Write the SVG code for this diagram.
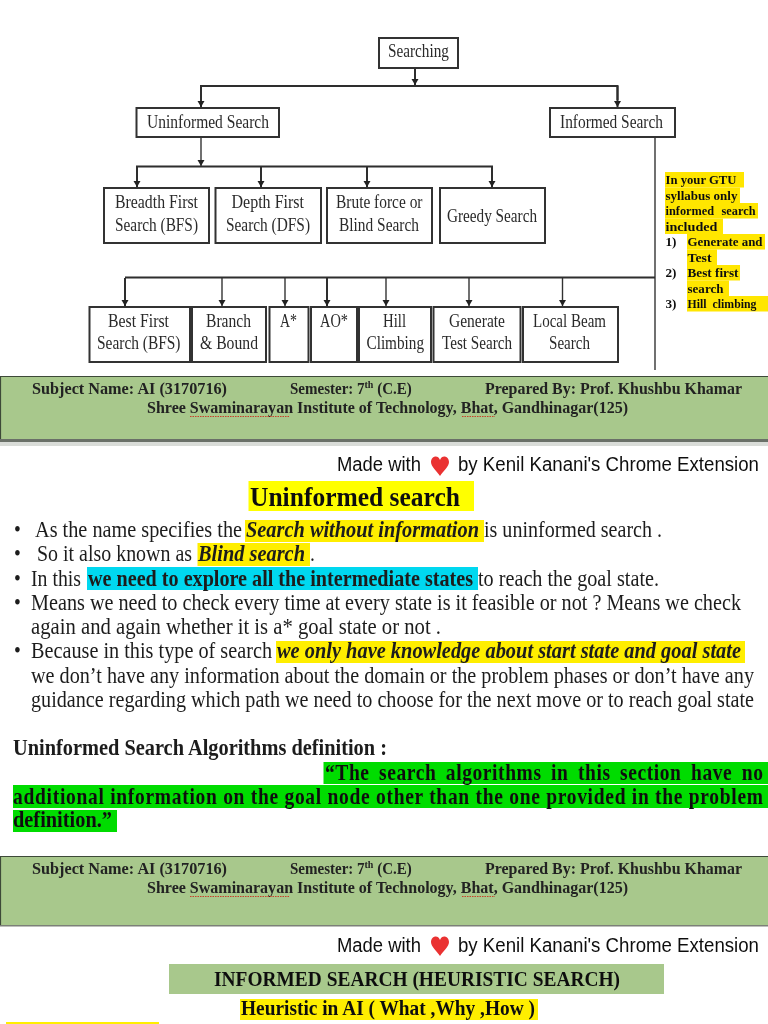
<svg xmlns="http://www.w3.org/2000/svg" width="768" height="1024" viewBox="0 0 768 1024">
<style>
text{font-family:"Liberation Serif","Times New Roman",serif;fill:#111}
.n{fill:#fff;stroke:#333;stroke-width:2}
.t{font-size:16px;fill:#2a2a2a}
.c{fill:none;stroke:#2e2e2e;stroke-width:2}
.v{fill:none;stroke:#333;stroke-width:1.400}
.y{fill:#ffff00}
.ny{fill:#ffe600}
.g{fill:#00dc00}
.b{fill:#a8c88c}
.note{font-size:11.500px;font-weight:bold}
.hd{font-size:15px;font-weight:bold;fill:#222}
.p{font-size:19.500px;fill:#1c1c1c}
.bi{font-weight:bold;font-style:italic}
.bo{font-weight:bold}
.m{font-family:"Liberation Sans",Arial,sans-serif;font-size:18px}
.w{fill:none;stroke:#c8402a;stroke-width:1;stroke-dasharray:1.5 1}
.q{font-size:19.500px;font-weight:bold}
</style>
<defs>
<marker id="a" markerWidth="8" markerHeight="8" refX="6" refY="3.500" orient="auto" markerUnits="userSpaceOnUse"><path d="M0 0L6 3.500L0 7Z" fill="#222"/></marker>
<filter id="s" x="-2%" y="-2%" width="104%" height="104%"><feGaussianBlur stdDeviation="0.4"/></filter>
<path id="h" d="M0 3C-2-3-9-1-9 5C-9 10-3 14 0 19C3 14 9 10 9 5C9-1 2-3 0 3Z" fill="#ea3030"/>
</defs>
<rect width="768" height="1024" fill="#fff"/>
<g filter="url(#s)">
<g id="connectors">
<path class="c" d="M415 68V85" marker-end="url(#a)"/>
<path class="c" d="M201 100V86H617.500V100"/>
<path class="c" d="M201 86V107" marker-end="url(#a)"/>
<path class="c" d="M617.500 86V107" marker-end="url(#a)"/>
<path class="v" d="M201 137V166" marker-end="url(#a)"/>
<path class="c" d="M137 180V166.500H492V180"/>
<path class="c" d="M137 167V187" marker-end="url(#a)"/>
<path class="c" d="M261 167V187" marker-end="url(#a)"/>
<path class="c" d="M367 167V187" marker-end="url(#a)"/>
<path class="c" d="M492 167V187" marker-end="url(#a)"/>
<path class="v" d="M655 137V370"/>
<path class="c" d="M655 277.500H125"/>
<path class="c" d="M125 278V306" marker-end="url(#a)"/>
<path class="v" d="M222 278V306" marker-end="url(#a)"/>
<path class="v" d="M285 278V306" marker-end="url(#a)"/>
<path class="c" d="M327 278V306" marker-end="url(#a)"/>
<path class="v" d="M386 278V306" marker-end="url(#a)"/>
<path class="v" d="M469 278V306" marker-end="url(#a)"/>
<path class="v" d="M562.500 278V306" marker-end="url(#a)"/>
</g>
<g id="n-searching"><rect class="n" x="379" y="38" width="79" height="30"/><text class="t" transform="translate(388 57) scale(1 1.150)" textLength="61" lengthAdjust="spacingAndGlyphs">Searching</text></g>
<g id="n-uninformed"><rect class="n" x="136.500" y="108" width="142.500" height="29"/><text class="t" transform="translate(147 127.500) scale(1 1.150)" textLength="122" lengthAdjust="spacingAndGlyphs">Uninformed Search</text></g>
<g id="n-informed"><rect class="n" x="550" y="108" width="125" height="29"/><text class="t" transform="translate(560 127.500) scale(1 1.150)" textLength="103" lengthAdjust="spacingAndGlyphs">Informed Search</text></g>
<g id="n-bfs"><rect class="n" x="104" y="188" width="105" height="55"/><text class="t" transform="translate(115 208) scale(1 1.150)" textLength="83" lengthAdjust="spacingAndGlyphs">Breadth First</text><text class="t" transform="translate(115 231) scale(1 1.150)" textLength="83" lengthAdjust="spacingAndGlyphs">Search (BFS)</text></g>
<g id="n-dfs"><rect class="n" x="215.500" y="188" width="105.500" height="55"/><text class="t" transform="translate(231.500 208) scale(1 1.150)" textLength="72.500" lengthAdjust="spacingAndGlyphs">Depth First</text><text class="t" transform="translate(226 231) scale(1 1.150)" textLength="84" lengthAdjust="spacingAndGlyphs">Search (DFS)</text></g>
<g id="n-brute"><rect class="n" x="327" y="188" width="105" height="55"/><text class="t" transform="translate(336 208) scale(1 1.150)" textLength="86.500" lengthAdjust="spacingAndGlyphs">Brute force or</text><text class="t" transform="translate(339 231) scale(1 1.150)" textLength="80" lengthAdjust="spacingAndGlyphs">Blind Search</text></g>
<g id="n-greedy"><rect class="n" x="440" y="188" width="105" height="55"/><text class="t" transform="translate(447 222) scale(1 1.150)" textLength="90" lengthAdjust="spacingAndGlyphs">Greedy Search</text></g>
<g id="n-best"><rect class="n" x="89.500" y="307" width="100.500" height="55"/><text class="t" transform="translate(108 327) scale(1 1.150)" textLength="61" lengthAdjust="spacingAndGlyphs">Best First</text><text class="t" transform="translate(97 349) scale(1 1.150)" textLength="83.500" lengthAdjust="spacingAndGlyphs">Search (BFS)</text></g>
<g id="n-branch"><rect class="n" x="192" y="307" width="74" height="55"/><text class="t" transform="translate(206 327) scale(1 1.150)" textLength="45" lengthAdjust="spacingAndGlyphs">Branch</text><text class="t" transform="translate(200 349) scale(1 1.150)" textLength="58" lengthAdjust="spacingAndGlyphs">&amp; Bound</text></g>
<g id="n-astar"><rect class="n" x="269.500" y="307" width="39" height="55"/><text class="t" transform="translate(280 327) scale(1 1.150)" textLength="17" lengthAdjust="spacingAndGlyphs">A*</text></g>
<g id="n-aostar"><rect class="n" x="311" y="307" width="46" height="55"/><text class="t" transform="translate(320 327) scale(1 1.150)" textLength="28" lengthAdjust="spacingAndGlyphs">AO*</text></g>
<g id="n-hill"><rect class="n" x="359" y="307" width="72" height="55"/><text class="t" transform="translate(383 327) scale(1 1.150)" textLength="23" lengthAdjust="spacingAndGlyphs">Hill</text><text class="t" transform="translate(366.500 349) scale(1 1.150)" textLength="57.500" lengthAdjust="spacingAndGlyphs">Climbing</text></g>
<g id="n-generate"><rect class="n" x="433.500" y="307" width="87" height="55"/><text class="t" transform="translate(449 327) scale(1 1.150)" textLength="56" lengthAdjust="spacingAndGlyphs">Generate</text><text class="t" transform="translate(442 349) scale(1 1.150)" textLength="70" lengthAdjust="spacingAndGlyphs">Test Search</text></g>
<g id="n-beam"><rect class="n" x="523" y="307" width="95" height="55"/><text class="t" transform="translate(533 327) scale(1 1.150)" textLength="73" lengthAdjust="spacingAndGlyphs">Local Beam</text><text class="t" transform="translate(549 349) scale(1 1.150)" textLength="41" lengthAdjust="spacingAndGlyphs">Search</text></g>
<g id="note">
<rect class="ny" x="665" y="172" width="79" height="15.500"/><rect class="ny" x="665" y="187.500" width="75" height="15.500"/><rect class="ny" x="665" y="203" width="93" height="15.500"/><rect class="ny" x="665" y="218.500" width="58" height="15.500"/>
<rect class="ny" x="687" y="234" width="78" height="15.500"/><rect class="ny" x="687" y="249.500" width="30" height="15.500"/><rect class="ny" x="687" y="265" width="53" height="15.500"/><rect class="ny" x="687" y="280.500" width="42" height="15.500"/><rect class="ny" x="687" y="296" width="81" height="15.500"/>
<text class="note" transform="translate(665.500 184) scale(1 1.170)" textLength="71" lengthAdjust="spacingAndGlyphs">In your GTU</text>
<text class="note" transform="translate(665.500 199.500) scale(1 1.170)" textLength="72" lengthAdjust="spacingAndGlyphs">syllabus only</text>
<text class="note" transform="translate(665.500 215) scale(1 1.170)" textLength="90" lengthAdjust="spacingAndGlyphs" word-spacing="4">informed search</text>
<text class="note" transform="translate(665.500 230.500) scale(1 1.170)" textLength="52" lengthAdjust="spacingAndGlyphs">included</text>
<text class="note" transform="translate(665.500 246) scale(1 1.170)" textLength="11" lengthAdjust="spacingAndGlyphs">1)</text><text class="note" transform="translate(687.500 246) scale(1 1.170)" textLength="75" lengthAdjust="spacingAndGlyphs">Generate and</text>
<text class="note" transform="translate(687.500 261.500) scale(1 1.170)" textLength="24" lengthAdjust="spacingAndGlyphs">Test</text>
<text class="note" transform="translate(665.500 277) scale(1 1.170)" textLength="11" lengthAdjust="spacingAndGlyphs">2)</text><text class="note" transform="translate(687.500 277) scale(1 1.170)" textLength="51" lengthAdjust="spacingAndGlyphs">Best first</text>
<text class="note" transform="translate(687.500 292.500) scale(1 1.170)" textLength="36" lengthAdjust="spacingAndGlyphs">search</text>
<text class="note" transform="translate(665.500 308) scale(1 1.170)" textLength="11" lengthAdjust="spacingAndGlyphs">3)</text><text class="note" transform="translate(687.500 308) scale(1 1.170)" textLength="69" lengthAdjust="spacingAndGlyphs" word-spacing="3">Hill climbing</text>
</g>
<g id="band1">
<rect x="0" y="376" width="768" height="64" class="b"/>
<path d="M0.500 440V376.500H768" fill="none" stroke="#3c4a38" stroke-width="1.200"/>
<rect x="0" y="439" width="768" height="3" fill="#6b6f68"/><rect x="0" y="442" width="768" height="4" fill="#d9dcd8"/>
<text class="hd" transform="translate(32 394) scale(1 1.130)" textLength="195" lengthAdjust="spacingAndGlyphs">Subject Name: AI (3170716)</text>
<text class="hd" transform="translate(290 394) scale(1 1.130)">Semester: 7<tspan font-size="10" dy="-5">th</tspan><tspan dy="5"> (C.E)</tspan></text>
<text class="hd" transform="translate(485 394) scale(1 1.130)" textLength="257" lengthAdjust="spacingAndGlyphs">Prepared By: Prof. Khushbu Khamar</text>
<text class="hd" transform="translate(147 413) scale(1 1.130)" textLength="481" lengthAdjust="spacingAndGlyphs">Shree Swaminarayan Institute of Technology, Bhat, Gandhinagar(125)</text>
<path class="w" d="M190 416.500H290M462 416.500H495"/>
</g>
<g id="credit1"><text class="m" transform="translate(337 471) scale(1 1.110)" textLength="84" lengthAdjust="spacingAndGlyphs">Made with</text><use href="#h" transform="translate(440 457)"/><text class="m" transform="translate(458 471) scale(1 1.110)" textLength="301" lengthAdjust="spacingAndGlyphs">by Kenil Kanani's Chrome Extension</text></g>
<g id="page2">
<rect class="y" x="248.500" y="481" width="225.500" height="30"/>
<text transform="translate(250 506) scale(1 1.120)" font-size="25" font-weight="bold" textLength="210" lengthAdjust="spacingAndGlyphs" fill="#000">Uninformed search</text>
<rect x="245" y="520" width="239" height="22" fill="#ffee00"/>
<rect x="197.500" y="543" width="112.500" height="23" fill="#ffee00"/>
<rect x="87" y="567" width="391" height="23" fill="#00d8f0"/>
<rect x="276" y="641" width="469" height="22" fill="#ffee00"/>
<text class="p" transform="translate(14 537) scale(1 1.150)">•</text><text class="p" transform="translate(35 537) scale(1 1.150)" textLength="207" lengthAdjust="spacingAndGlyphs">As the name specifies the</text><text class="p bi" transform="translate(246 537) scale(1 1.150)" textLength="233" lengthAdjust="spacingAndGlyphs">Search without information</text><text class="p" transform="translate(484 537) scale(1 1.150)" textLength="178" lengthAdjust="spacingAndGlyphs">is uninformed search .</text>
<text class="p" transform="translate(14 561) scale(1 1.150)">•</text><text class="p" transform="translate(37 561) scale(1 1.150)" textLength="155" lengthAdjust="spacingAndGlyphs">So it also known as</text><text class="p bi" transform="translate(198 561) scale(1 1.150)" textLength="107" lengthAdjust="spacingAndGlyphs">Blind search</text><text class="p" transform="translate(310 561) scale(1 1.150)">.</text>
<text class="p" transform="translate(14 586) scale(1 1.150)">•</text><text class="p" transform="translate(31 586) scale(1 1.150)" textLength="50" lengthAdjust="spacingAndGlyphs">In this</text><text class="p bo" transform="translate(88 586) scale(1 1.150)" textLength="385" lengthAdjust="spacingAndGlyphs">we need to explore all the intermediate states</text><text class="p" transform="translate(478 586) scale(1 1.150)" textLength="181" lengthAdjust="spacingAndGlyphs">to reach the goal state.</text>
<text class="p" transform="translate(14 610) scale(1 1.150)">•</text><text class="p" transform="translate(31 610) scale(1 1.150)" textLength="710" lengthAdjust="spacingAndGlyphs">Means we need to check every time at every state is it feasible or not ? Means we check</text>
<text class="p" transform="translate(31 634) scale(1 1.150)" textLength="410" lengthAdjust="spacingAndGlyphs">again and again whether it is a* goal state or not .</text>
<text class="p" transform="translate(14 658) scale(1 1.150)">•</text><text class="p" transform="translate(31 658) scale(1 1.150)" textLength="241" lengthAdjust="spacingAndGlyphs">Because in this type of search</text><text class="p bi" transform="translate(277 658) scale(1 1.150)" textLength="464" lengthAdjust="spacingAndGlyphs">we only have knowledge about start state and goal state</text>
<text class="p" transform="translate(31 683) scale(1 1.150)" textLength="723" lengthAdjust="spacingAndGlyphs">we don’t have any information about the domain or the problem phases or don’t have any</text>
<text class="p" transform="translate(31 707) scale(1 1.150)" textLength="723" lengthAdjust="spacingAndGlyphs">guidance regarding which path we need to choose for the next move or to reach goal state</text>
<text class="p bo" transform="translate(13 755) scale(1 1.150)" textLength="374" lengthAdjust="spacingAndGlyphs">Uninformed Search Algorithms definition :</text>
<rect class="g" x="323.500" y="762" width="444.500" height="22"/><rect class="g" x="13" y="785" width="755" height="23"/><rect class="g" x="13" y="810" width="104" height="22"/>
<text class="q" transform="translate(325 780) scale(1 1.130)" textLength="438" word-spacing="4">“The search algorithms in this section have no</text>
<text class="q" transform="translate(13 804) scale(1 1.130)" textLength="750">additional information on the goal node other than the one provided in the problem</text>
<text class="q" transform="translate(13 827) scale(1 1.130)" textLength="99" lengthAdjust="spacingAndGlyphs">definition.”</text>
</g>
<g id="band2">
<rect x="0" y="856" width="768" height="70" class="b"/>
<path d="M0.500 926V856.500H768" fill="none" stroke="#3c4a38" stroke-width="1.200"/>
<rect x="0" y="925" width="768" height="1.500" fill="#7c8078"/>
<text class="hd" transform="translate(32 874) scale(1 1.130)" textLength="195" lengthAdjust="spacingAndGlyphs">Subject Name: AI (3170716)</text>
<text class="hd" transform="translate(290 874) scale(1 1.130)">Semester: 7<tspan font-size="10" dy="-5">th</tspan><tspan dy="5"> (C.E)</tspan></text>
<text class="hd" transform="translate(485 874) scale(1 1.130)" textLength="257" lengthAdjust="spacingAndGlyphs">Prepared By: Prof. Khushbu Khamar</text>
<text class="hd" transform="translate(147 893) scale(1 1.130)" textLength="481" lengthAdjust="spacingAndGlyphs">Shree Swaminarayan Institute of Technology, Bhat, Gandhinagar(125)</text>
<path class="w" d="M190 896.500H290M462 896.500H495"/>
</g>
<g id="credit2"><text class="m" transform="translate(337 952) scale(1 1.110)" textLength="84" lengthAdjust="spacingAndGlyphs">Made with</text><use href="#h" transform="translate(440 937)"/><text class="m" transform="translate(458 952) scale(1 1.110)" textLength="301" lengthAdjust="spacingAndGlyphs">by Kenil Kanani's Chrome Extension</text></g>
<g id="page3">
<rect class="b" x="169" y="964" width="495" height="30"/>
<text transform="translate(214 986) scale(1 1.100)" font-size="19" font-weight="bold" textLength="406" lengthAdjust="spacingAndGlyphs">INFORMED SEARCH (HEURISTIC SEARCH)</text>
<rect x="240" y="999" width="298" height="21" fill="#ffee00"/>
<text transform="translate(241 1015) scale(1 1.100)" font-size="19.500" font-weight="bold" textLength="294" lengthAdjust="spacingAndGlyphs">Heuristic in AI ( What ,Why ,How )</text>
<rect x="6" y="1022" width="153" height="2" fill="#ffee00"/>
</g>
</g>
</svg>
